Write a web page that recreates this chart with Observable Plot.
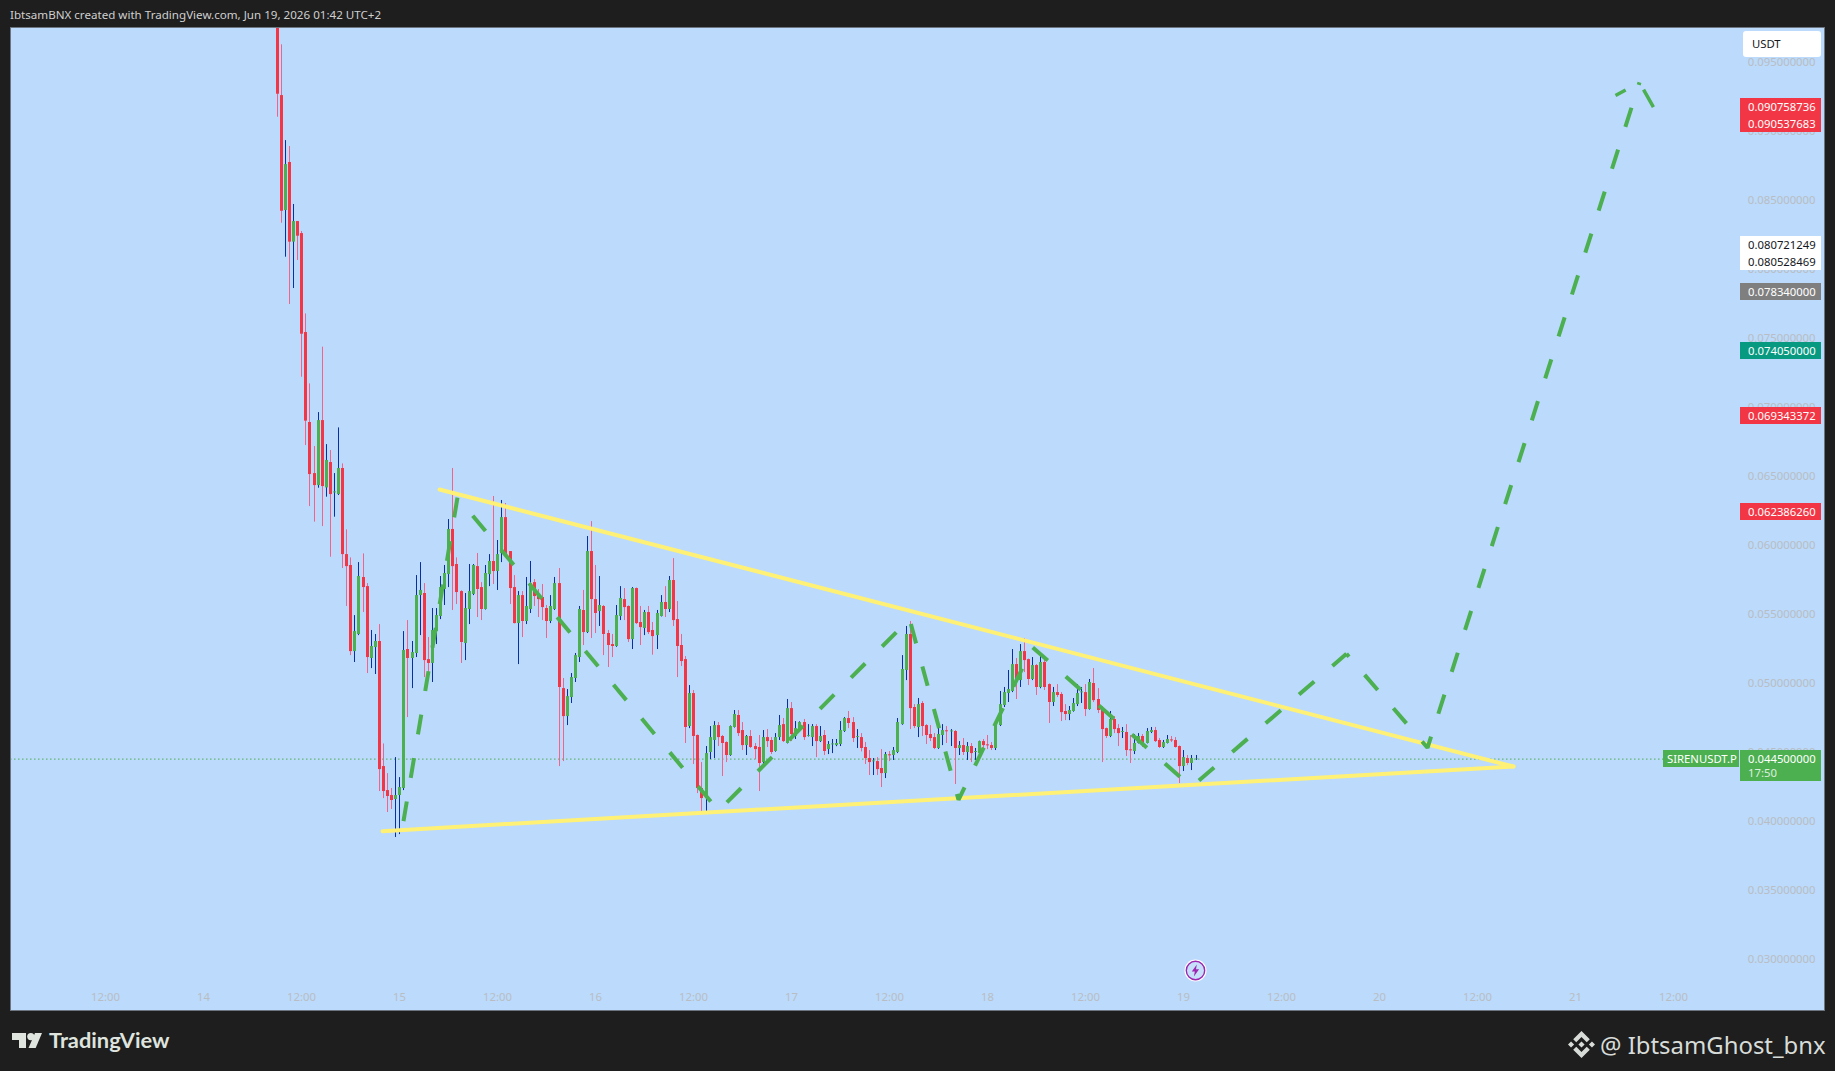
<!DOCTYPE html>
<html>
<head>
<meta charset="utf-8">
<script src="https://cdn.jsdelivr.net/npm/d3@7"></script>
<script src="https://cdn.jsdelivr.net/npm/@observablehq/plot@0.6"></script>
<style>
html,body{margin:0;padding:0;background:#1e1e1e;}
#page{position:relative;width:1835px;height:1071px;overflow:hidden;background:#1e1e1e;font-family:"Noto Sans",sans-serif;}
#chart{position:absolute;left:10px;top:27px;width:1814px;height:983px;}
#chart svg{display:block;}
#edge{position:absolute;left:10px;top:27px;width:1815px;height:984px;box-sizing:border-box;border:1px solid #6d7680;pointer-events:none;}
#title{position:absolute;left:10px;top:6px;font-size:11.6px;line-height:18px;color:#cfcfcf;white-space:nowrap;}
.tag{position:absolute;left:1740px;width:81px;box-sizing:border-box;padding-left:8px;font-size:11.3px;line-height:17px;white-space:nowrap;}
.sym{position:absolute;left:1663px;width:76px;height:17px;box-sizing:border-box;padding-left:4px;background:#4caf50;color:#fff;font-size:11.3px;line-height:17px;white-space:nowrap;}
#usdt{position:absolute;left:1743px;top:31px;width:78px;height:26px;box-sizing:border-box;padding-left:9px;background:#fff;border-radius:3px;color:#131722;font-size:11.3px;line-height:26px;}
#tvname{position:absolute;left:49px;top:1026px;font-family:Lato,sans-serif;font-weight:700;font-size:21.8px;line-height:28px;color:#dfe4df;white-space:nowrap;}
#handle{position:absolute;left:1600px;top:1027px;font-size:23.9px;line-height:36px;color:#d8dcd8;white-space:nowrap;}
.ic{position:absolute;}
</style>
</head>
<body>
<div id="page">
  <div id="title">IbtsamBNX created with TradingView.com, Jun 19, 2026 01:42 UTC+2</div>
  <div id="chart"></div>
  <div id="edge"></div>
  <div id="usdt">USDT</div>
  <svg class="ic" style="left:12px;top:1033px" width="30" height="15" viewBox="0 0 30 15"><path fill="#dfe4df" d="M0 0h14v15H7V7H0z"/><circle fill="#dfe4df" cx="18.8" cy="3.6" r="3.6"/><path fill="#dfe4df" d="M23 0h7l-6.3 15H16.5z"/></svg>
  <div id="tvname">TradingView</div>
  <svg class="ic" style="left:1568px;top:1031px" width="27" height="27" viewBox="0 0 126.61 126.61"><path fill="#d8dcd8" d="M38.73 53.2L63.3 28.63l24.59 24.59 14.3-14.3L63.3 0 24.43 38.9zM0 63.31l14.3-14.3 14.3 14.3-14.3 14.3zM38.73 73.41L63.3 97.98l24.59-24.59 14.31 14.29-38.9 38.92-38.87-38.87zM98 63.31l14.3-14.3 14.3 14.3-14.3 14.3zM77.83 63.3L63.3 48.76 52.55 59.51l-1.24 1.24-2.55 2.55L63.3 77.85 77.83 63.31z"/></svg>
  <div id="handle">@ IbtsamGhost_bnx</div>
  <svg class="ic" style="left:1184px;top:959px" width="23" height="23" viewBox="0 0 23 23"><circle cx="11.5" cy="11.5" r="11" fill="#fff"/><circle cx="11.5" cy="11.5" r="9.2" fill="#c6e0fb" stroke="#9c27b0" stroke-width="1.4"/><path fill="#9c27b0" d="M12.8 5.5L7.8 12.6h3L9.9 17.5l5.2-7.2h-3.1z"/></svg>
</div>
<script>
// Candle values, in thousandths of a USDT, 30 minute bars from 14 June 09:00
const barStart = "2026-06-14T09:00Z";
const barMinutes = 30;
const opens = [
99,92.58,84.25,87.73,81.96,83.45,82.58,75.41,68.89,65.19,
64.32,69.03,64.15,65.99,63.79,63.67,65.56,59.32,58.53,52.29,
53.53,57.66,57.0,51.79,52.58,53.02,43.96,42.22,41.86,41.57,
41.86,42.37,52.44,51.79,52.15,56.35,56.5,51.71,51.43,53.74,
54.83,56.79,57.87,61.14,58.6,56.64,52.87,55.34,56.43,58.45,
56.93,55.34,57.87,58.82,58.09,59.39,62.0,59.54,56.93,54.32,
56.35,54.47,55.34,57.29,56.28,56.21,55.41,54.47,55.34,57.22,
49.61,47.58,48.96,50.34,51.86,55.27,53.67,59.54,56.06,55.19,
55.56,53.6,52.8,52.66,54.83,56.06,55.56,53.16,56.86,54.4,
53.96,55.12,53.82,53.45,54.83,55.85,55.34,57.44,54.61,52.73,
51.71,46.86,49.25,46.21,42.37,41.64,44.98,45.85,46.93,46.14,
45.7,44.76,46.79,47.66,46.57,45.48,46.14,45.41,45.34,44.25,
46.06,45.85,45.05,46.06,47.0,45.63,48.16,46.14,46.64,47.15,
46.14,46.06,46.86,45.77,46.21,45.19,45.53,45.48,45.56,46.5,
47.44,47.15,46.06,46.06,45.34,44.54,44.3,44.32,43.82,43.45,
44.81,44.76,44.98,47.0,50.92,53.53,48.24,46.79,48.53,46.93,
46.28,46.06,45.27,46.21,46.55,46.47,46.5,45.27,45.48,44.98,
45.41,44.98,44.9,45.77,45.53,45.48,45.27,46.93,48.38,49.25,
49.4,51.35,50.19,52.29,51.71,50.27,51.28,49.69,51.5,49.9,
48.6,49.32,49.18,47.95,47.73,47.95,48.45,49.3,49.32,48.09,
49.98,48.82,48.09,46.71,46.14,47.37,46.71,46.43,46.43,45.17,
45.05,45.63,46.14,45.63,46.43,46.57,45.85,45.34,45.63,45.89,
45.85,45.41,43.96,44.54,44.18,44.46];
const closes = [
92.68,84.2,87.58,81.96,83.45,82.39,75.29,68.99,65.12,64.32,
69.03,64.25,66.14,63.67,63.86,65.56,59.32,58.45,52.29,53.74,
57.73,56.93,51.86,52.66,53.02,43.74,42.15,41.79,41.5,41.86,
42.44,52.37,51.79,52.22,56.35,56.72,51.64,51.43,53.82,54.9,
56.93,57.95,61.14,58.45,56.57,52.95,55.41,56.64,58.53,56.79,
55.34,57.95,58.82,58.09,59.32,62.0,59.32,56.86,54.32,56.35,
54.47,55.56,57.22,56.28,56.06,55.48,54.47,55.56,57.22,49.69,
47.58,49.03,50.41,52.0,55.34,53.67,59.54,56.06,55.05,55.63,
53.53,52.73,52.66,54.9,56.14,55.48,53.16,56.86,54.32,54.03,
55.12,53.67,53.38,55.05,55.85,55.34,57.44,54.54,52.66,51.57,
46.79,49.25,46.14,42.37,41.64,44.9,46.06,46.93,46.06,45.63,
44.76,46.86,47.73,46.35,45.48,46.14,45.34,45.19,44.18,46.06,
45.77,44.98,46.06,46.93,45.77,48.16,46.28,46.71,47.15,46.06,
46.2,46.86,45.77,46.14,45.05,45.56,45.6,45.63,46.57,47.44,
47.08,45.99,46.13,45.27,44.54,44.25,44.37,43.74,43.45,44.83,
44.74,45.12,47.15,50.99,53.53,48.16,46.86,48.45,46.86,46.21,
45.99,45.27,46.28,46.57,46.48,46.54,45.27,45.48,44.98,45.41,
44.9,45.05,45.77,45.48,45.46,45.27,47.0,48.45,49.32,49.54,
51.35,50.19,52.29,51.64,50.27,51.28,49.69,51.5,49.69,48.6,
49.32,49.11,47.87,47.73,48.02,48.53,49.25,49.37,48.09,50.05,
48.74,48.02,46.64,46.14,47.37,46.64,46.35,46.5,45.12,45.1,
45.63,46.14,45.63,46.5,46.57,45.77,45.34,45.7,45.92,45.82,
45.34,43.96,44.61,44.18,44.54,44.5];
const highs = [
100,96.26,89.32,88.89,84.69,83.45,82.73,76.76,71.69,67.15,
69.61,74.35,67.29,66.86,65.19,68.5,65.89,61.11,59.08,54.9,
58.74,59.37,57.22,53.82,53.53,54.25,45.6,43.45,42.37,44.61,
43.16,53.74,54.54,53.02,57.8,58.74,57.22,53.31,55.41,55.41,
57.73,58.53,61.86,65.56,59.08,56.7,56.5,58.6,58.6,59.4,
57.29,58.53,59.32,63.53,60.34,63.24,63.02,59.54,57.8,56.64,
56.64,57.66,58.82,57.51,56.79,57.15,55.63,56.35,57.66,58.31,
50.34,49.54,50.7,52.15,55.56,56.72,60.63,61.71,58.53,57.73,
55.63,53.82,53.53,55.63,57.0,56.86,55.6,56.93,56.9,55.56,
55.27,55.56,54.4,55.27,56.35,57.0,57.73,59.03,55.92,53.53,
51.93,49.83,49.47,46.25,44.25,45.41,46.86,47.22,47.15,46.21,
45.75,46.9,48.02,48.02,47.15,46.21,46.57,45.63,46.21,46.57,
46.64,46.06,46.35,47.66,47.44,48.82,48.6,47.22,47.2,47.37,
47.0,47.0,47.0,46.86,46.57,45.77,45.92,45.92,47.22,47.51,
47.95,47.51,46.64,46.35,45.7,45.12,44.54,44.61,45.19,44.98,
45.05,45.34,47.44,52.0,54.11,54.47,48.45,48.89,48.67,47.0,
46.93,46.35,47.15,47.0,46.86,46.64,46.57,45.77,45.99,45.7,
45.63,45.27,45.8,45.92,46.21,45.7,47.29,49.4,49.69,50.92,
52.44,51.79,52.8,53.24,51.75,51.86,51.35,52.0,51.86,49.95,
49.69,49.9,49.32,48.45,48.31,48.89,49.9,49.69,49.9,50.27,
51.06,49.61,48.31,46.75,47.95,47.58,47.0,46.79,47.0,46.21,
46.28,46.35,46.28,46.71,46.79,46.79,45.99,45.85,46.21,46.14,
46.06,45.45,45.12,44.76,44.76,44.76];
const lows = [
91.01,83.33,80.87,77.44,78.6,80.63,72.17,67.22,62.8,61.67,
64.13,61.35,63.48,59.13,62.03,63.6,58.31,55.56,52.0,51.5,
53.45,55.12,50.7,51.06,50.63,42.15,41.64,40.63,40.85,38.82,
39.03,42.22,47.51,49.61,51.86,53.45,50.41,50.63,50.05,52.8,
54.61,55.63,56.93,55.27,55.7,51.43,51.64,54.25,56.35,54.76,
54.54,55.3,57.0,57.15,56.72,58.74,59.3,55.7,54.3,51.35,
53.31,54.25,55.05,55.56,54.76,54.54,53.24,54.32,55.27,43.96,
44.32,46.93,48.53,50.05,51.5,52.73,53.6,53.24,53.6,54.11,
52.0,51.14,51.86,52.6,54.54,54.54,52.95,52.44,54.25,52.73,
53.45,53.53,52.03,52.44,54.8,54.76,55.12,54.11,50.41,51.21,
45.63,46.71,44.11,42.0,40.63,40.63,44.47,44.54,45.41,43.24,
44.25,44.7,46.75,46.14,45.12,44.76,45.27,44.47,42.15,44.03,
45.34,44.83,45.0,45.85,45.7,45.6,45.77,45.92,46.6,45.85,
46.1,45.41,44.61,45.7,44.76,44.83,44.9,45.4,45.41,46.43,
46.71,45.7,45.27,45.02,44.11,43.31,43.31,43.31,42.44,43.09,
44.32,44.4,44.9,46.95,50.19,46.64,46.71,46.06,46.14,45.56,
45.77,45.19,45.2,45.48,45.63,45.41,42.66,44.76,44.76,44.4,
44.25,44.4,44.85,45.12,45.19,45.12,45.12,46.86,48.24,48.6,
49.32,48.82,49.69,50.77,49.83,50.19,49.11,49.6,49.47,47.08,
48.31,48.96,47.22,47.29,47.29,47.9,48.31,48.53,47.58,48.05,
48.6,47.8,44.25,45.99,46.06,46.35,45.41,45.99,44.69,44.18,
44.83,45.6,45.34,45.6,46.35,45.7,45.27,45.27,45.6,45.7,
45.3,42.73,43.6,44.03,43.67,44.4];

// Drawings: [time, price in thousandths]
const upperTrend = [["2026-06-15T04:54Z",64.04],["2026-06-20T16:25Z",43.96]];
const lowerTrend = [["2026-06-14T21:51Z",39.28],["2026-06-20T16:25Z",43.96]];
const forecastA = [
["2026-06-15T00:25Z",40.00],["2026-06-15T07:02Z",63.46],["2026-06-16T15:01Z",40.75],
["2026-06-17T14:25Z",54.65],["2026-06-17T20:23Z",41.55],["2026-06-18T05:26Z",52.61],
["2026-06-19T00:56Z",42.48]];
const forecastB = [["2026-06-19T00:56Z",42.48],["2026-06-19T19:55Z",52.13]];
const forecastC = [["2026-06-19T19:55Z",52.13],["2026-06-20T05:53Z",45.32],["2026-06-21T07:50Z",93.53]];
const arrowHead = [["2026-06-21T04:52Z",92.59],["2026-06-21T07:50Z",93.53],["2026-06-21T09:29Z",91.74]];
const lastPrice = 0.0445;
const lastLineEnd = "2026-06-21T10:44Z";

// Axes
const priceTicks = [0.030,0.035,0.040,0.045,0.050,0.055,0.060,0.065,0.070,0.075,0.080,0.085,0.090,0.095];
const timeTicks = ["2026-06-13T12:00Z","2026-06-14T00:00Z","2026-06-14T12:00Z","2026-06-15T00:00Z","2026-06-15T12:00Z","2026-06-16T00:00Z","2026-06-16T12:00Z","2026-06-17T00:00Z","2026-06-17T12:00Z","2026-06-18T00:00Z","2026-06-18T12:00Z","2026-06-19T00:00Z","2026-06-19T12:00Z","2026-06-20T00:00Z","2026-06-20T12:00Z","2026-06-21T00:00Z","2026-06-21T12:00Z"];
const timeDomain = ["2026-06-13T00:19:52Z","2026-06-22T06:27:11Z"];
const priceDomain = [0.026283,0.097514];

// Price tags on the right hand scale
const priceTags = [
 {rows:["0.090758736","0.090537683"],price:0.090537683,bg:"#f23645",fg:"#fff"},
 {rows:["0.080721249","0.080528469"],price:0.080528469,bg:"#fff",fg:"#131722"},
 {rows:["0.078340000"],price:0.07834,bg:"#7f7f7f",fg:"#fff"},
 {rows:["0.074050000"],price:0.07405,bg:"#089981",fg:"#fff"},
 {rows:["0.069343372"],price:0.069343372,bg:"#f23645",fg:"#fff"},
 {rows:["0.062386260"],price:0.06238626,bg:"#f23645",fg:"#fff"},
 {rows:["0.044500000"],sub:"17:50",price:lastPrice,bg:"#4caf50",fg:"#fff"}
];
const symbolName = "SIRENUSDT.P";

const bars = opens.map((o,i)=>({
  t:new Date(+new Date(barStart)+i*barMinutes*60000),
  o:o/1000,c:closes[i]/1000,h:highs[i]/1000,l:lows[i]/1000,up:closes[i]>=o
}));
const pts = a=>a.map(([t,p])=>({t:new Date(t),p:p/1000}));
const upBars = bars.filter(d=>d.up), downBars = bars.filter(d=>!d.up);
const axisColor = "#b9bdc2";
const dashLine = (a,offset,width=4)=>Plot.line(pts(a),{x:"t",y:"p",stroke:"#4caf50",strokeWidth:width,strokeDasharray:"20 24",strokeDashoffset:offset,strokeLinecap:"butt",strokeLinejoin:"miter"});

const chart = Plot.plot({
  width:1814,height:983,
  marginTop:0,marginRight:0,marginBottom:0,marginLeft:0,
  style:{background:"#bbdafc",fontFamily:"'Noto Sans',sans-serif",fontSize:"11.3px"},
  x:{type:"utc",domain:timeDomain.map(d=>new Date(d)),round:true,label:null},
  y:{type:"linear",domain:priceDomain,label:null},
  marks:[
    Plot.axisX({anchor:"bottom",ticks:timeTicks.map(d=>new Date(d)),
      tickFormat:d=>d.getUTCHours()===12?"12:00":String(d.getUTCDate()),
      tickSize:0,tickPadding:0,lineAnchor:"middle",dy:-13,fill:axisColor,stroke:"none",label:null}),
    Plot.axisY({anchor:"right",ticks:priceTicks,tickFormat:d3.format(".9f"),
      tickSize:0,tickPadding:0,textAnchor:"end",dx:-9,fill:axisColor,stroke:"none",label:null}),
    Plot.ruleY([lastPrice],{x1:()=>new Date(timeDomain[0]),x2:()=>new Date(lastLineEnd),stroke:"#4caf50",strokeWidth:1,strokeDasharray:"1.5 2.5"}),
    Plot.ruleX(upBars,{x:"t",y1:"l",y2:"h",stroke:"#0a2fa0",strokeWidth:1,clip:true}),
    Plot.ruleX(downBars,{x:"t",y1:"l",y2:"h",stroke:"#f0648c",strokeWidth:1,clip:true}),
    Plot.ruleX(upBars,{x:"t",y1:"o",y2:"c",stroke:"#4caf50",strokeWidth:3,clip:true}),
    Plot.ruleX(downBars,{x:"t",y1:"o",y2:"c",stroke:"#f23645",strokeWidth:3,clip:true}),
    Plot.line(pts(upperTrend),{x:"t",y:"p",stroke:"#fff176",strokeWidth:4,strokeLinecap:"round"}),
    Plot.line(pts(lowerTrend),{x:"t",y:"p",stroke:"#fff176",strokeWidth:4,strokeLinecap:"round"}),
    dashLine(forecastA,0),
    dashLine(forecastB,34.2),
    dashLine(forecastC,16.2),
    dashLine(arrowHead,8.5,3.5)
  ]
});
document.getElementById("chart").appendChild(chart);

const page = document.getElementById("page");
const yPx = p=>chart.scale("y").apply(p)+27;
for(const tag of priceTags){
  const el=document.createElement("div");
  el.className="tag";
  const n=tag.rows.length;
  const h=tag.sub?30.6:17*n;
  el.style.top=(yPx(tag.price)-8.5-17*(n-1))+"px";
  el.style.height=h+"px";
  el.style.background=tag.bg;
  el.style.color=tag.fg;
  el.innerHTML=tag.rows.join("<br>")+(tag.sub?`<div style="margin-top:-2px;line-height:15px;opacity:.8">${tag.sub}</div>`:"");
  page.appendChild(el);
}
const sym=document.createElement("div");
sym.className="sym";
sym.textContent=symbolName;
sym.style.top=(yPx(lastPrice)-8.5)+"px";
page.appendChild(sym);
</script>
</body>
</html>
